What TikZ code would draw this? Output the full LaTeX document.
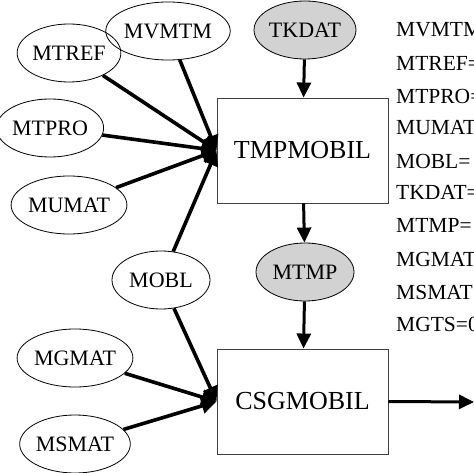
\documentclass[tikz,border=0pt]{standalone}
\usepackage{fontspec}
\setmainfont{Liberation Serif}
\usetikzlibrary{shapes.geometric,arrows.meta}
\tikzset{
  ell/.style={ellipse,draw,line width=0.8pt,minimum width=98pt,minimum height=58pt,inner sep=0pt,font=\fontsize{22}{26}\selectfont},
  gell/.style={ell,fill=gray!35},
  procbox/.style={rectangle,draw=black!75,line width=0.9pt,minimum width=171pt,minimum height=105pt,inner sep=0pt,font=\fontsize{26}{30}\selectfont},
  conn/.style={line width=3.6pt,-{Triangle[length=15pt,width=15pt]}},
  vconn/.style={line width=3pt,-{Triangle[length=15pt,width=14pt]}},
  leg/.style={anchor=west,inner sep=0pt,font=\fontsize{21.5}{25}\selectfont}
}
\begin{document}
\begin{tikzpicture}[x=1pt,y=-1pt]
\useasboundingbox (0,0) rectangle (474,473);
\clip (0,0) rectangle (474,473);
\node[ell] (mvmtm) at (168,31) {MVMTM};
\node[ell] (mtref) at (69,53) {MTREF};
\node[ell] (mtpro) at (50,128) {MTPRO};
\node[ell] (mumat) at (69,205) {MUMAT};
\node[gell] (tkdat) at (305,30) {TKDAT};
\node[procbox] (tmp) at (302.5,150.5) {TMPMOBIL};
\node[gell] (mtmp) at (305,272) {MTMP};
\node[procbox] (csg) at (302.5,401.5) {CSGMOBIL};
\node[ell] (mobl) at (161,280) {MOBL};
\node[ell] (mgmat) at (75,358) {MGMAT};
\node[ell] (msmat) at (75,444) {MSMAT};
\coordinate (out) at (474,402);

\draw[conn] (mvmtm) -- (tmp.west);
\draw[conn] (mtref) -- (tmp.west);
\draw[conn] (mtpro) -- (tmp.west);
\draw[conn] (mumat) -- (tmp.west);
\draw[conn] (mobl) -- (tmp.west);
\draw[conn] (mobl) -- (csg.west);
\draw[conn] (mgmat) -- (csg.west);
\draw[conn] (msmat) -- (csg.west);
\draw[vconn] (tkdat) -- (tmp);
\draw[vconn] (tmp) -- (mtmp);
\draw[vconn] (mtmp) -- (csg);
\draw[vconn] (csg.east) -- (out);

\node[leg] (l1) at (396,30) {MVMTM};
\node[leg] (l2) at (396,63) {MTREF=};
\node[leg] (l3) at (396,96) {MTPRO=};
\node[leg] (l4) at (396,128) {MUMAT};
\node[leg] (l5) at (396,161) {MOBL=};
\node[leg] (l6) at (396,192) {TKDAT=};
\node[leg] (l7) at (396,225) {MTMP=};
\node[leg] (l8) at (396,259) {MGMAT};
\node[leg] (l9) at (396,292) {MSMAT};
\node[leg] (l10) at (396,324) {MGTS=0};
\end{tikzpicture}
\end{document}
